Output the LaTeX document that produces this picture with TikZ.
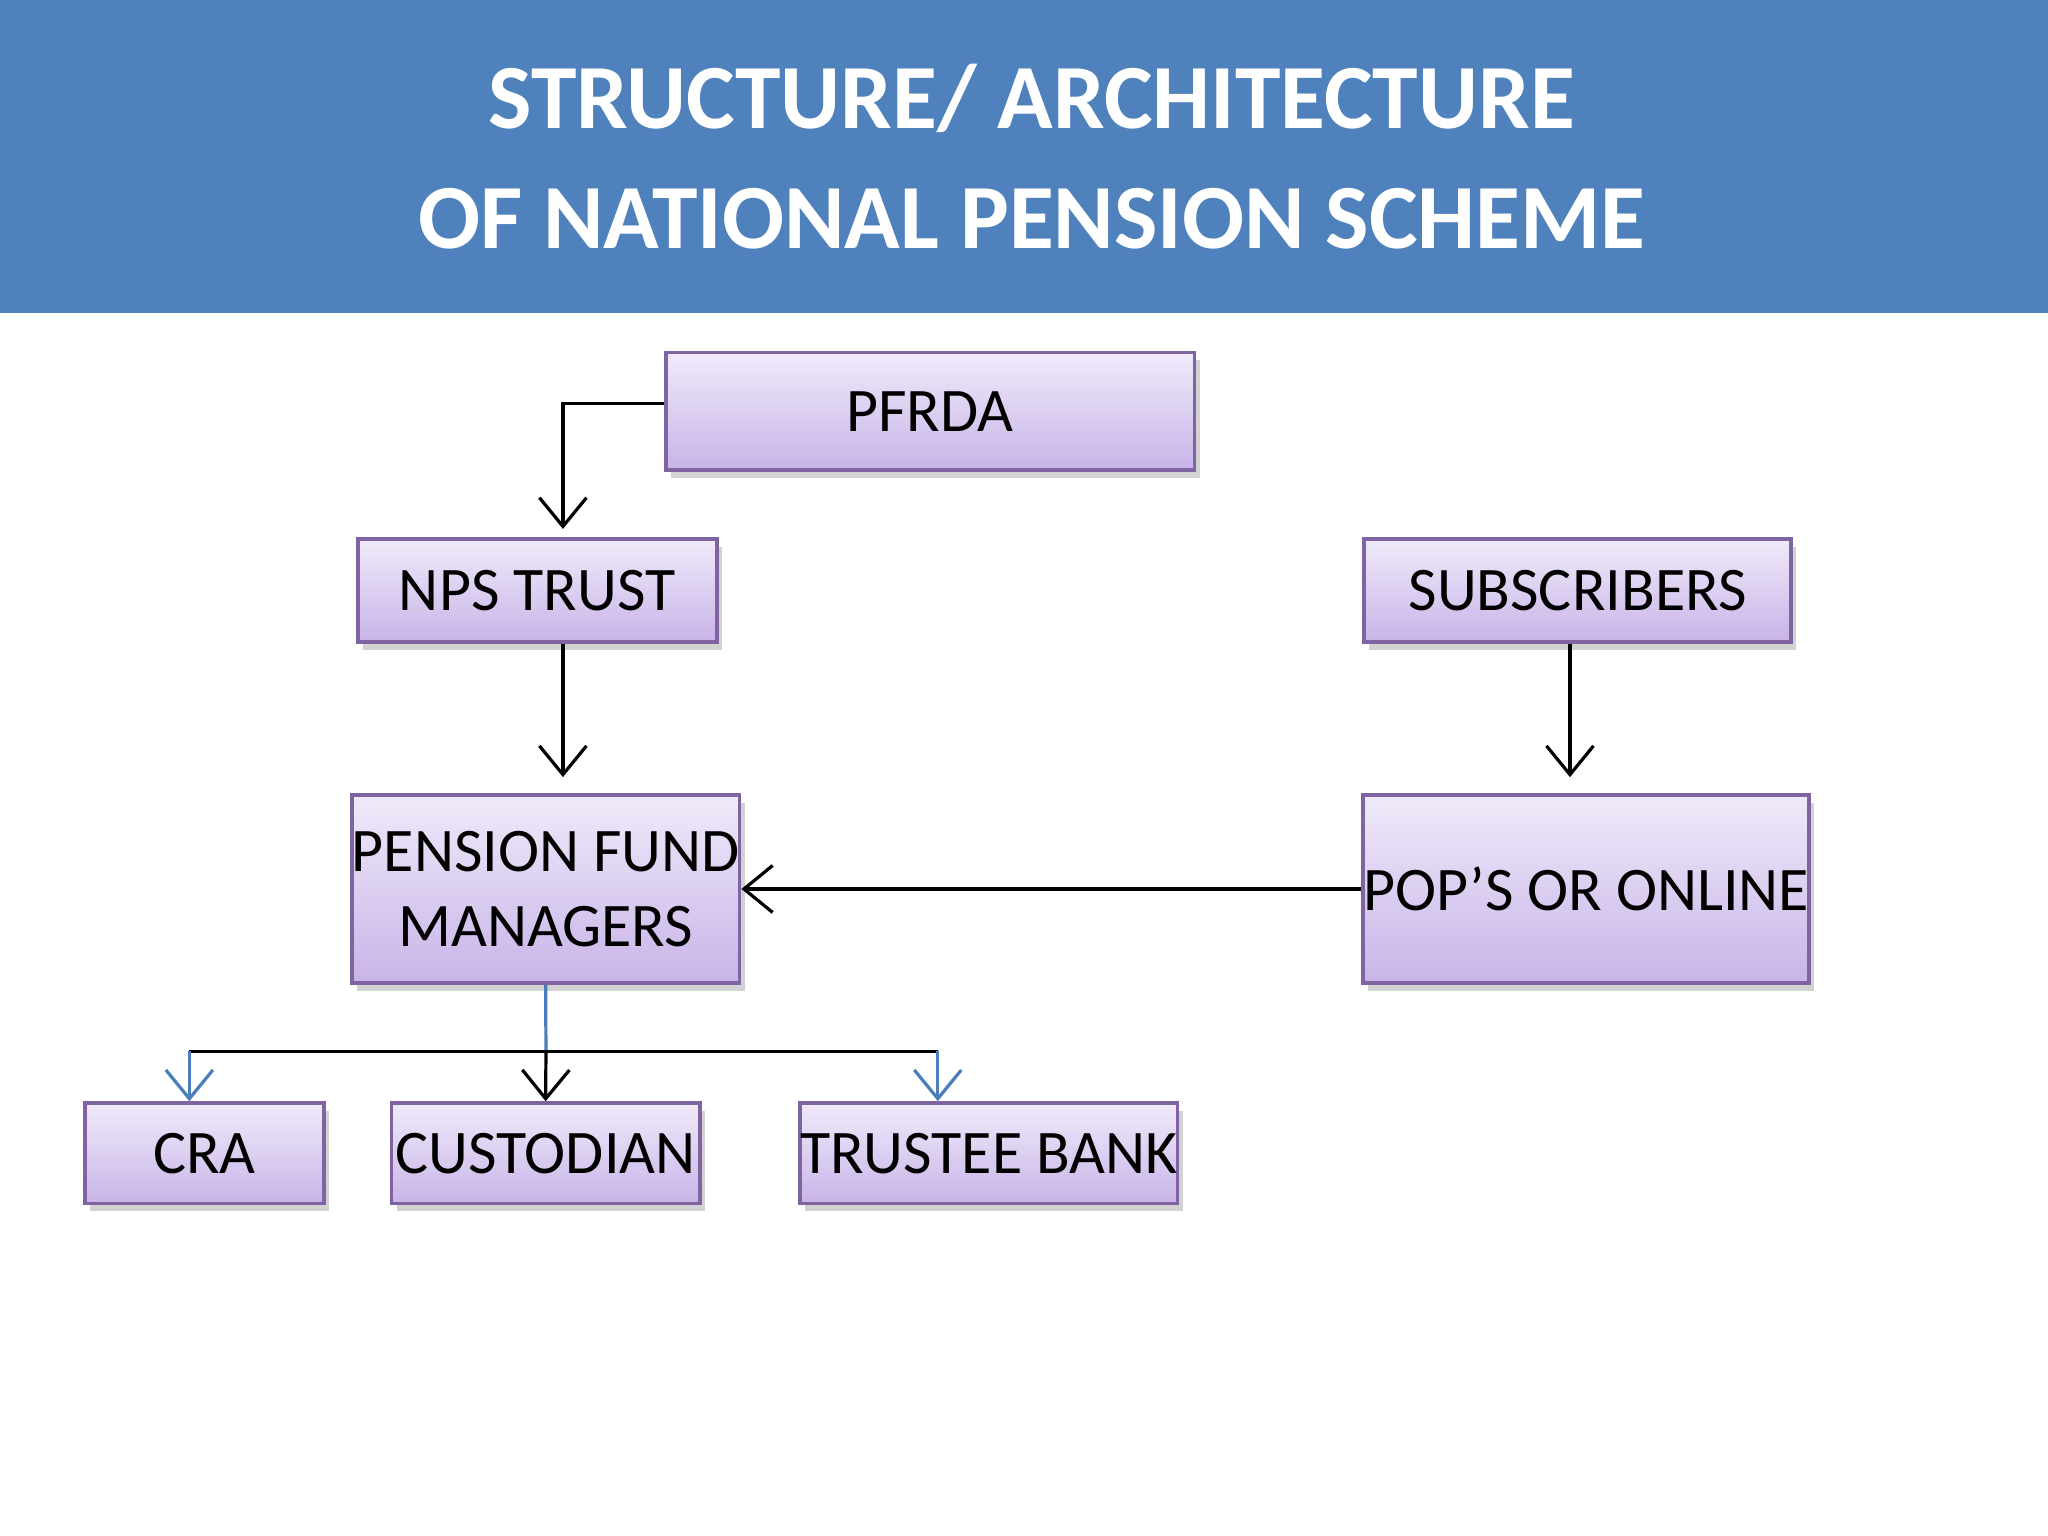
\documentclass[tikz,border=0pt]{standalone}
\usepackage{fontspec}
\setmainfont{Carlito}
\usetikzlibrary{arrows.meta,shadows}
\definecolor{band}{RGB}{79,129,189}
\definecolor{bord}{RGB}{128,100,162}
\definecolor{ltop}{RGB}{240,234,250}
\definecolor{lbot}{RGB}{200,180,232}
\definecolor{lblue}{RGB}{74,126,187}
\tikzset{
 box/.style={draw=bord,line width=0.8pt,top color=ltop,bottom color=lbot,
  drop shadow={shadow xshift=0.4mm,shadow yshift=-0.6mm,opacity=0.35},
  font=\fontsize{13.5}{16.5}\selectfont,align=center,inner sep=0pt},
 conn/.style={line width=0.7pt,-{Straight Barb[length=2.2mm,width=3.6mm]}},
}
\newcommand{\bx}[6]{\node[box,minimum width=#4*0.01cm-#2*0.01cm,minimum height=#5*0.01cm-#3*0.01cm] (#1) at ({(#2+#4)/2*0.01},{-(#3+#5)/2*0.01}) {#6};}
\begin{document}
\begin{tikzpicture}
\useasboundingbox (0,0) rectangle (15.68,-11.76);
\fill[white] (0,0) rectangle (15.68,-11.76);
\fill[band] (0,0) rectangle (15.68,-2.4);
\node[text=white,font=\bfseries\fontsize{20}{26}\selectfont,align=center] (title) at (7.9,-1.2) {STRUCTURE/ ARCHITECTURE\\OF NATIONAL PENSION SCHEME};
\bx{pfrda}{510}{270}{915}{360}{PFRDA}
\bx{nps}{274}{413}{549}{492}{NPS TRUST}
\bx{sub}{1045}{413}{1372}{492}{SUBSCRIBERS}
\bx{pfm}{274}{609}{562}{753}{PENSION FUND\\MANAGERS}
\bx{pop}{1045}{609}{1385}{753}{POP’S OR ONLINE}
\bx{cra}{65}{845}{248}{922}{CRA}
\bx{cus}{300}{845}{536}{922}{CUSTODIAN}
\bx{tb}{613}{845}{902}{922}{TRUSTEE BANK}
\draw[conn] (pfrda.west|-4,-3.09) -- (4.31,-3.09) -- (4.31,-4.05);
\draw[conn] (4.31,0|-nps.south) -- (4.31,-5.95);
\draw[conn] (12.02,0|-sub.south) -- (12.02,-5.95);
\draw[conn] (pop.west) -- (pfm.east);
\coordinate (jl) at (1.45,-8.05);
\coordinate (jr) at (7.18,-8.05);
\draw[lblue,line width=0.7pt] (pfm.south) -- (4.18,-8.05);
\draw[line width=0.7pt] (jl) -- (jr);
\draw[conn,lblue] (jl) -- (jl|-cra.north);
\draw[conn] (4.18,-8.05) -- (cus.north);
\draw[conn,lblue] (jr) -- (jr|-tb.north);
\end{tikzpicture}
\end{document}
